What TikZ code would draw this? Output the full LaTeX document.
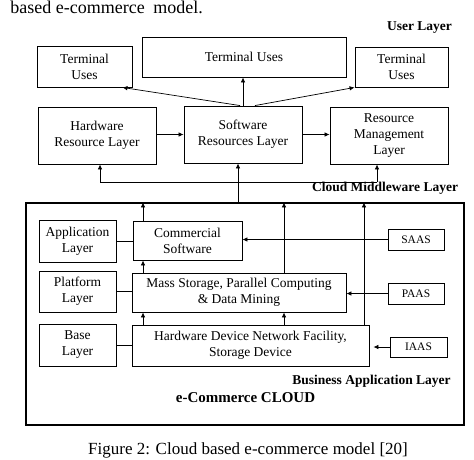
\documentclass[tikz,border=0pt]{standalone}
\usepackage{fontspec}
\setmainfont{Liberation Serif}
\usetikzlibrary{arrows.meta}
\newcommand{\bx}{\fontsize{13.5}{16}\selectfont}
\newcommand{\sm}{\fontsize{11.5}{13}\selectfont}
\tikzset{
  box/.style={draw, line width=0.9pt, align=center, inner sep=0pt, font=\bx},
  tag/.style={draw, line width=0.9pt, align=center, inner sep=0pt, font=\sm},
  arr/.style={line width=0.7pt, -{Latex[length=5pt,width=4.5pt]}},
  ln/.style={line width=0.7pt},
  lbl/.style={font=\bx\bfseries, inner sep=0pt}
}
\begin{document}
\begin{tikzpicture}[x=1pt,y=-1pt]
\useasboundingbox (0,0) rectangle (474,459);
% top and bottom texts
\node[anchor=base east, inner sep=0pt, font=\fontsize{18}{20}\selectfont] (toptxt) at (203,13) {based e-commerce\hspace{4pt} model.};
\node[anchor=base, inner sep=0pt, font=\fontsize{17}{20}\selectfont] (cap) at (248,454.5) {Figure 2: Cloud based e-commerce model [20]};
% user layer
\node[lbl] (ul) at (419.5,28) {User Layer};
\node[box, minimum width=95, minimum height=41] (tl) at (84.5,66.5) {Terminal\\Uses};
\node[box, minimum width=204, minimum height=40] (tc) at (244,57) {Terminal Uses};
\node[box, minimum width=93, minimum height=40] (tr) at (401.5,67) {Terminal\\Uses};
% middleware
\node[box, minimum width=118, minimum height=57] (hw) at (97,135.5) {Hardware\\Resource Layer};
\node[box, minimum width=118, minimum height=57] (sw) at (243,134.5) {Software\\Resources Layer};
\node[box, minimum width=118, minimum height=57] (rm) at (389,135.5) {Resource\\Management\\Layer};
\node[lbl] (cml) at (385,188) {Cloud Middleware Layer};
% cloud
\node[draw, line width=1.1pt, minimum width=438, minimum height=222, inner sep=0pt] (big) at (245,314) {};
\node[box, minimum width=77, minimum height=42] (app) at (77.5,241) {Application\\Layer};
\node[box, minimum width=109, minimum height=39] (cs) at (187.5,240.5) {Commercial\\Software};
\node[tag, minimum width=56, minimum height=21] (saas) at (416,239.5) {SAAS};
\node[box, minimum width=77, minimum height=41] (plat) at (77.5,291.5) {Platform\\Layer};
\node[box, minimum width=214, minimum height=39] (ms) at (239,292.5) {Mass Storage, Parallel Computing\\\& Data Mining};
\node[tag, minimum width=56, minimum height=21] (paas) at (416,293.5) {PAAS};
\node[box, minimum width=77, minimum height=42] (base) at (77.5,345) {Base\\Layer};
\node[box, minimum width=237, minimum height=41] (hd) at (250.5,345.5) {Hardware Device Network Facility,\\Storage Device};
\node[tag, minimum width=57, minimum height=20] (iaas) at (418.5,347) {IAAS};
\node[lbl] (bal) at (371.5,381) {Business Application Layer};
\node[lbl, font=\fontsize{15}{17}\selectfont\bfseries] (ecc) at (245.5,398) {e-Commerce CLOUD};
% coordinates
\coordinate (xA) at (143,0);
\coordinate (xB) at (284,0);
\coordinate (xC) at (364,0);
\coordinate (busL) at (100,182);
\coordinate (busR) at (377,182);
\coordinate (xS) at (238,0);
% user-layer arrows
\draw[arr] ([xshift=-3pt]sw.north) -- ([xshift=-10pt]tl.south east);
\draw[arr] (sw.north) -- (sw.north |- tc.south);
\draw[arr] ([xshift=12pt]sw.north) -- (tr.south west);
% middleware arrows
\draw[arr] (hw.east |- sw.west) -- (sw.west);
\draw[arr] (sw.east) -- (sw.east -| rm.west);
\draw[ln] (busL) -- (busR);
\draw[arr] (busL) -- (busL |- hw.south);
\draw[arr] (busR) -- (busR |- rm.south);
\draw[arr] (xS |- big.north) -- (xS |- sw.south);
% cloud arrows
\draw[arr] (xA |- cs.north) -- (xA |- big.north);
\draw[arr] (xA |- ms.north) -- (xA |- cs.south);
\draw[arr] (xA |- hd.north) -- (xA |- ms.south);
\draw[arr] (xB |- ms.north) -- (xB |- big.north);
\draw[arr] (xB |- hd.north) -- (xB |- ms.south);
\draw[arr] (xC |- hd.north) -- (xC |- big.north);
\draw[arr] (saas.west) -- (saas.west -| cs.east);
\draw[arr] (paas.west) -- (paas.west -| ms.east);
\draw[arr] (iaas.west) -- ([xshift=4pt]iaas.west -| hd.east);
\draw[ln] (app.east) -- (app.east -| cs.west);
\draw[ln] (plat.east) -- (plat.east -| ms.west);
\draw[ln] (base.east) -- (base.east -| hd.west);
\end{tikzpicture}
\end{document}
